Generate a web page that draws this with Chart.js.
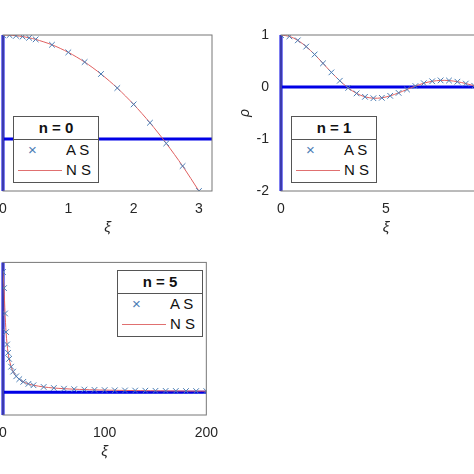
<!DOCTYPE html>
<html><head><meta charset="utf-8">
<script src="https://cdn.jsdelivr.net/npm/chart.js@4"></script>
<style>
body{margin:0;width:474px;height:474px;overflow:hidden;position:relative;background:#fff;font-family:"Liberation Sans",Arial,sans-serif}
canvas{position:absolute}
.lg{position:absolute;width:84px;height:65px;border:1px solid #555;background:#fff;font-size:15px;color:#111}
.lg .t{height:22px;line-height:22px;text-align:center;font-weight:bold;border-bottom:1px solid #555}
.lg .r{height:20px;line-height:20px;position:relative}
.lg .s{position:absolute;left:52px}
</style></head><body>
<div style="position:absolute;left:0;top:0;width:474px;height:474px">
<canvas id="c1" style="left:-37px;top:0"></canvas>
<canvas id="c2" style="left:237px;top:0"></canvas>
<canvas id="c3" style="left:-37px;top:250px"></canvas>
</div>
<div class="lg" style="left:13px;top:116px"><div class="t">n = 0</div><div class="r"><span style="position:absolute;left:14px;color:#4a7db5">×</span><span class="s">A S</span></div><div class="r"><span style="position:absolute;left:4px;top:10px;width:44px;border-top:1px solid #e07070"></span><span class="s">N S</span></div></div>
<div class="lg" style="left:291px;top:116px"><div class="t">n = 1</div><div class="r"><span style="position:absolute;left:14px;color:#4a7db5">×</span><span class="s">A S</span></div><div class="r"><span style="position:absolute;left:4px;top:10px;width:44px;border-top:1px solid #e07070"></span><span class="s">N S</span></div></div>
<div class="lg" style="left:117px;top:270px"><div class="t">n = 5</div><div class="r"><span style="position:absolute;left:14px;color:#4a7db5">×</span><span class="s">A S</span></div><div class="r"><span style="position:absolute;left:4px;top:10px;width:44px;border-top:1px solid #e07070"></span><span class="s">N S</span></div></div>
<script>
const xi0 = [0,0.1,0.2,0.3,0.4,0.5,0.75,1,1.25,1.5,1.75,2,2.25,2.5,2.75,3];
const rho0 = [1,0.998,0.993,0.985,0.973,0.958,0.906,0.833,0.740,0.625,0.490,0.333,0.156,-0.042,-0.260,-0.5];
const xi1 = [0,0.4,0.8,1.2,1.6,2.0,2.4,2.8,3.2,3.6,4.0,4.4,4.8,5.2,5.6,6.0,6.4,6.8,7.2,7.6,8.0,8.4,8.8,9.2,9.6,10.0];
const rho1 = [1,0.974,0.897,0.777,0.625,0.455,0.281,0.120,-0.018,-0.123,-0.189,-0.216,-0.208,-0.170,-0.113,-0.047,0.018,0.073,0.110,0.127,0.124,0.102,0.066,0.024,-0.018,-0.054];
const xi5 = [0,1,2,3,4,5,6,8,10,13,16,20,25,30,40,50,60,70,80,90,100,110,120,130,140,150,160,170,180,190,200];
const rho5 = [1,0.866,0.655,0.5,0.397,0.327,0.277,0.212,0.171,0.132,0.108,0.0863,0.069,0.0577,0.0433,0.0346,0.0289,0.0247,0.0217,0.0192,0.0173,0.0157,0.0144,0.0133,0.0124,0.0115,0.0108,0.0102,0.0096,0.0091,0.0087];

const frame = {
  id: 'frame',
  beforeDatasetsDraw(chart) {
    const {ctx, chartArea: a, scales: {x, y}} = chart;
    ctx.save();
    ctx.strokeStyle = '#0000e6'; ctx.lineWidth = 3;
    ctx.beginPath();
    ctx.moveTo(x.getPixelForValue(0), a.top); ctx.lineTo(x.getPixelForValue(0), a.bottom);
    ctx.moveTo(a.left, y.getPixelForValue(0)); ctx.lineTo(a.right, y.getPixelForValue(0));
    ctx.stroke();
    ctx.restore();
  },
  afterDraw(chart) {
    const {ctx, chartArea: a} = chart;
    ctx.save();
    ctx.strokeStyle = '#777'; ctx.lineWidth = 1;
    ctx.strokeRect(a.left, a.top, a.right - a.left, a.bottom - a.top);
    ctx.restore();
  }
};

function make(id, w, h, padTop, xs, ys, xmin, xmax, xticks, ymin, ymax, yticks, ytitle) {
  const cv = document.getElementById(id);
  cv.width = w; cv.height = h; cv.style.width = w + 'px'; cv.style.height = h + 'px';
  const pts = xs.map((v, i) => ({x: v, y: ys[i]}));
  new Chart(cv, {
    type: 'scatter',
    data: {datasets: [
      {data: pts, showLine: true, borderColor: '#e06060', borderWidth: 1, pointRadius: 0, tension: 0.3, order: 2},
      {data: pts, pointStyle: 'crossRot', pointRadius: 4, pointBorderColor: '#4a7db5', pointBorderWidth: 1, order: 1}
    ]},
    options: {
      responsive: false, animation: false, devicePixelRatio: 1,
      layout: {padding: {top: padTop, right: 10, left: 0, bottom: 0}},
      plugins: {legend: {display: false}, tooltip: {enabled: false}},
      scales: {
        x: {type: 'linear', min: xmin, max: xmax,
          afterBuildTicks: s => { s.ticks = xticks.map(v => ({value: v})); },
          afterFit: s => { s.height = 46; },
          grid: {display: false}, border: {display: false},
          ticks: {color: '#262626', font: {size: 14}, padding: 2, maxRotation: 0},
          title: {display: true, text: 'ξ', color: '#262626', font: {size: 15, style: 'italic'}, padding: {top: 5, bottom: 0}}},
        y: {min: ymin, max: ymax,
          afterBuildTicks: s => { s.ticks = yticks.map(v => ({value: v})); },
          afterFit: s => { s.width = ytitle ? 44 : 40; },
          grid: {display: false}, border: {display: false},
          ticks: {color: '#262626', font: {size: 14}, padding: 4},
          title: {display: !!ytitle, text: ytitle || '', color: '#262626', font: {size: 14, style: 'italic'}, padding: 0}}
      }
    },
    plugins: [frame]
  });
}

make('c1', 259, 237, 35, xi0, rho0, 0, 3.2, [0,1,2,3], -0.5, 1, [-0.5,0,0.5,1], null);
make('c2', 264, 237, 35, xi1, rho1, 0, 10, [0,5,10], -2, 1, [-2,-1,0,1], 'ρ');
make('c3', 257, 211, 10, xi5, rho5, 0, 200, [0,100,200], -0.19, 1.08, [0,0.5,1], null);
</script>
</body></html>
